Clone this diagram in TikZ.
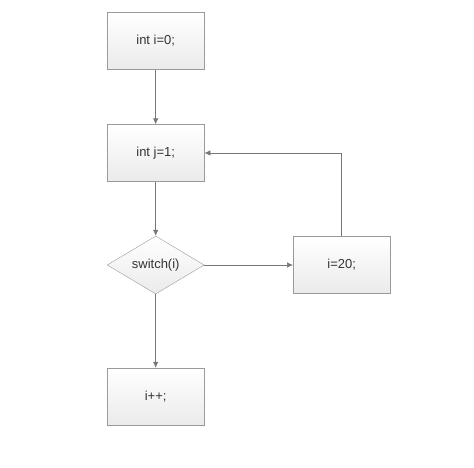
\documentclass[tikz,border=0pt]{standalone}
\usepackage{fontspec}
\setsansfont{Liberation Sans}
\usetikzlibrary{arrows.meta,shapes}

\definecolor{linegray}{HTML}{777777}
\definecolor{boxgray}{HTML}{9A9A9A}
\definecolor{textgray}{HTML}{333333}

\tikzset{
  stepbox/.style={rectangle,draw=boxgray,top color=white,bottom color=black!8,
                  minimum width=97pt,minimum height=57pt,inner sep=0pt},
  test/.style={diamond,draw=boxgray,top color=white,bottom color=black!8,
               minimum width=97pt,minimum height=58pt,inner sep=0pt,aspect=1.7},
  flow/.style={draw=linegray,line width=0.7pt,-{Latex[length=6pt,width=5.5pt]}}
}

\begin{document}
\begin{tikzpicture}[auto,node distance=112pt,
                    font=\sffamily\fontsize{13}{15}\selectfont,text=textgray,
                    every edge/.style=flow]

  \useasboundingbox (0pt,0pt) rectangle (474pt,-468pt);

  \node[stepbox] (init)  at (155.7pt,-41pt) {int i=0;};
  \node[stepbox] (setj)  [below of=init]    {int j=1;};
  \node[test]    (sw)    [below of=setj]    {switch(i)};
  \node[stepbox] (inc)   [below of=sw, node distance=131.5pt] {i++;};
  \node[stepbox] (set20) [right of=sw, node distance=186pt]   {i=20;};

  \path (init)  edge (setj)
        (setj)  edge (sw)
        (sw)    edge (inc)
        (sw)    edge (set20);
  \draw[flow] (set20.north) |- (setj.east);
\end{tikzpicture}
\end{document}
